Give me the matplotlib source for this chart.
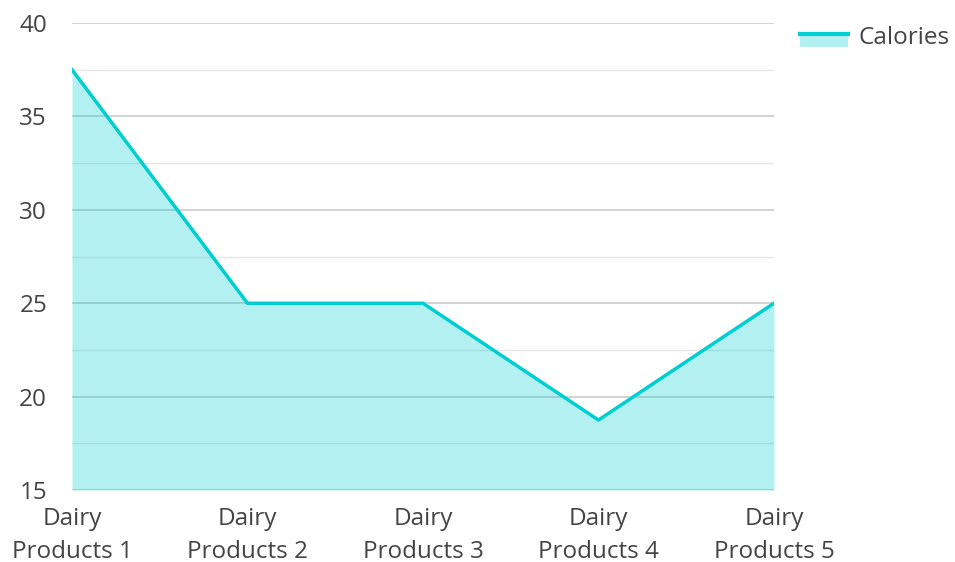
"""Calories by dairy product — filled line chart."""
import matplotlib
matplotlib.use("Agg")
import matplotlib.pyplot as plt
from matplotlib.lines import Line2D
from matplotlib.patches import Patch, Rectangle

categories = ["Dairy\nProducts 1", "Dairy\nProducts 2", "Dairy\nProducts 3",
              "Dairy\nProducts 4", "Dairy\nProducts 5"]
calories = [37.5, 25, 25, 18.75, 25]
y_ticks = [15, 20, 25, 30, 35, 40]
y_minor = [17.5, 22.5, 27.5, 32.5, 37.5]

line_color = "#00CED1"
text_color = "#444444"
font_size = 17.5


class FillLineHandler:
    """Legend swatch: a thick line with the translucent fill hanging below it."""

    def legend_artist(self, legend, orig_handle, fontsize, handlebox):
        x0, y0 = handlebox.xdescent, handlebox.ydescent
        width, height = handlebox.width, handlebox.height
        line_y = y0 + height * 0.6
        patch = Rectangle((x0, y0 - height * 0.15), width, line_y - (y0 - height * 0.15),
                          facecolor=line_color, alpha=0.3, linewidth=0,
                          transform=handlebox.get_transform())
        line = Line2D([x0, x0 + width], [line_y, line_y], color=line_color, linewidth=3,
                      transform=handlebox.get_transform())
        handlebox.add_artist(patch)
        handlebox.add_artist(line)
        return patch


plt.rcParams["font.family"] = ["Open Sans", "DejaVu Sans"]

figure = plt.figure(figsize=(9.55, 5.62), dpi=100)
axes = figure.add_axes([0.0754, 0.128, 0.735, 0.831])

x = list(range(len(categories)))
axes.fill_between(x, calories, 15, color=line_color, alpha=0.3, linewidth=0, zorder=2)
axes.plot(x, calories, color=line_color, linewidth=2.5, zorder=3)

axes.set_xlim(0, len(categories) - 1)
axes.set_ylim(15, 40)
axes.set_yticks(y_ticks)
axes.set_yticks(y_minor, minor=True)
axes.set_xticks(x)
axes.set_xticklabels(categories, fontsize=font_size, color=text_color, linespacing=1.5)
axes.tick_params(axis="y", which="major", labelsize=font_size, labelcolor=text_color,
                 length=0, pad=18)
axes.tick_params(axis="y", which="minor", length=0)
axes.tick_params(axis="x", length=0, pad=12)
axes.grid(True, axis="y", which="major", color="#cccccc", linewidth=1.2, zorder=1)
axes.grid(True, axis="y", which="minor", color="#e6e6e6", linewidth=1.0, zorder=1)
axes.set_axisbelow(True)
for spine in axes.spines.values():
    spine.set_visible(False)

figure.legend([Patch()], ["Calories"], handler_map={Patch: FillLineHandler()},
              loc="upper left", bbox_to_anchor=(800 / 955, 1 - 26 / 562), frameon=False,
              fontsize=font_size, labelcolor=text_color, handlelength=1.97,
              handletextpad=0.42, borderpad=0, borderaxespad=0)

figure.savefig("out.png", dpi=100)
